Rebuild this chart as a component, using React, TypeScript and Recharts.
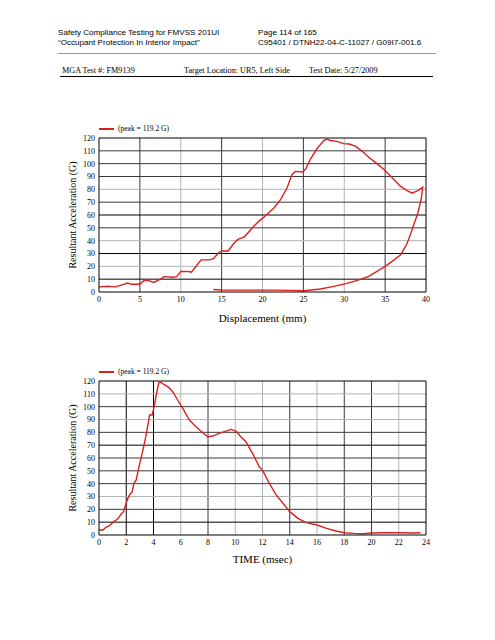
import { Line, LineChart, ReferenceLine, XAxis, YAxis } from "recharts";

// displacement (mm) vs resultant acceleration (G), loading then unloading
const dispMm = [
  0, 1, 2, 3, 3.5, 4, 5, 5.5, 6, 6.7, 7.5, 8, 9, 9.5, 10, 11, 11.3, 12, 12.5, 13.5, 14, 14.7, 15, 15.8,
  16.5, 17, 17.8, 18.9, 19.7, 20.3, 21.4, 22.2, 23, 23.6, 24, 24.9, 25.3, 25.9, 26.7, 27.5, 27.9, 28.3,
  29.1, 29.9, 30.6, 31.4, 32.2, 33, 33.8, 34.9, 35.9, 36.9, 37.7, 38.3, 39, 39.6,
  39.4, 39, 38.3, 37.7, 36.9, 36.1, 35, 34, 33, 31.6, 30.2, 28.7, 27.1, 25.1, 23.4, 21.4, 17.3, 15, 14,
];
const accDisp = [
  4, 4.5, 4, 6, 7, 6, 6, 9, 9, 7.5, 10, 12, 11.5, 12, 16, 16, 15.5, 21, 25, 25, 26, 31, 32, 32,
  38, 41, 43, 51, 56, 59, 65.5, 72, 81, 91.4, 94, 93.5, 96, 104, 112, 118, 119.2, 118,
  117.4, 115.6, 115.3, 113.5, 109.6, 105, 101, 95.3, 88.8, 82.3, 79, 77, 79, 81.6,
  72, 61.6, 48.6, 38, 29, 25, 20, 16, 12.2, 9, 6.5, 4.4, 2.3, 1, 1.3, 1.5, 1.5, 1.6, 2,
];

// time (msec) vs resultant acceleration (G)
const timeMs = [
  0, 0.3, 0.5, 0.73, 0.9, 1.07, 1.27, 1.41, 1.63, 1.8, 1.95, 2.12, 2.29, 2.44, 2.56, 2.73, 2.88, 3.02,
  3.22, 3.41, 3.59, 3.71, 3.9, 4.05, 4.2, 4.39, 4.49, 4.73, 5.12, 5.41, 5.78, 6.15, 6.63, 7.12, 7.61,
  7.98, 8.34, 8.83, 9.32, 9.68, 10.05, 10.41, 10.78, 11.27, 11.76, 12, 12.5, 13, 13.5, 14, 14.6, 15.2,
  16, 16.7, 17.4, 18, 18.7, 19.4, 20, 20.9, 22, 23.1, 23.6,
];
const accTime = [
  3.9, 3.9, 6, 7, 8.6, 10.4, 11.7, 13, 16.4, 18.2, 23.4, 28.6, 32, 33.8, 40.3, 42.9, 50.6, 57,
  66, 75.3, 85.7, 93.5, 93.5, 100, 109, 118.7, 119.2, 117.6, 115, 111.7, 105, 98.7, 89.6, 84.4, 79.7,
  76.6, 77.1, 79.2, 81, 82.3, 81, 76.6, 72.7, 63.6, 53.2, 50.6, 40.3, 31.2, 24.7, 18.2, 13, 9.6,
  7.8, 5.2, 3.1, 1.8, 1.3, 1.0, 1.6, 1.8, 1.8, 1.6, 1.8,
];

const accTicks = [0, 10, 20, 30, 40, 50, 60, 70, 80, 90, 100, 110, 120];
const dispTicks = [0, 5, 10, 15, 20, 25, 30, 35, 40];
const timeTicks = [0, 2, 4, 6, 8, 10, 12, 14, 16, 18, 20, 22, 24];
const peakLabel = "(peak = 119.2 G)";

const RED = "#dc1f1f";
const serif = "'Liberation Serif', 'Times New Roman', serif";
const sans = "'Liberation Sans', Arial, sans-serif";

type Shade = Record<number, string>;

function gridColor(v: number, shades: Shade) {
  return shades[v] ?? "#3a3a3a";
}

type PanelProps = {
  top: number;
  data: Array<{ x: number; y: number }>;
  xTicks: number[];
  xMax: number;
  xTitle: string;
  xAxisHeight: number;
  vShades: Shade;
  hShades: Shade;
};

function Panel({ top, data, xTicks, xMax, xTitle, xAxisHeight, vShades, hShades }: PanelProps) {
  const tickStyle = { fontFamily: serif, fontSize: 8, fill: "#000" };
  return (
    <div style={{ position: "absolute", left: 0, top }}>
      <div
        style={{
          position: "absolute",
          left: 99,
          top: 4,
          display: "flex",
          alignItems: "center",
          fontFamily: serif,
          fontSize: 7.5,
          whiteSpace: "nowrap",
        }}
      >
        <span style={{ width: 15, height: 2, background: RED, marginRight: 4 }} />
        {peakLabel}
      </div>
      <LineChart
        width={440}
        height={178 + xAxisHeight}
        data={data}
        margin={{ top: 18, right: 14, bottom: 6, left: 45 }}
      >
        {xTicks.slice(1, -1).map((v) => (
          <ReferenceLine key={`v${v}`} x={v} stroke={gridColor(v, vShades)} strokeWidth={1} />
        ))}
        {accTicks.slice(1, -1).map((v) => (
          <ReferenceLine key={`h${v}`} y={v} stroke={gridColor(v, hShades)} strokeWidth={1} />
        ))}
        <ReferenceLine y={120} stroke="#000" />
        <ReferenceLine x={xMax} stroke="#000" />
        <XAxis
          type="number"
          dataKey="x"
          domain={[0, xMax]}
          ticks={xTicks}
          interval={0}
          height={xAxisHeight}
          axisLine={{ stroke: "#000" }}
          tickLine={false}
          tickSize={2}
          tick={tickStyle}
          label={{
            value: xTitle,
            position: "insideBottom",
            offset: 0,
            style: { fontFamily: serif, fontSize: 11, fill: "#000" },
          }}
        />
        <YAxis
          type="number"
          domain={[0, 120]}
          ticks={accTicks}
          interval={0}
          width={54}
          axisLine={{ stroke: "#000" }}
          tickLine={false}
          tickSize={2}
          tick={tickStyle}
          label={{
            value: "Resultant Acceleration (G)",
            angle: -90,
            position: "center",
            style: { fontFamily: serif, fontSize: 10, fill: "#000" },
          }}
        />
        <Line
          type="linear"
          dataKey="y"
          stroke={RED}
          strokeWidth={1.4}
          dot={false}
          isAnimationActive={false}
        />
      </LineChart>
    </div>
  );
}

export default function App() {
  const dispData = dispMm.map((x, i) => ({ x, y: accDisp[i] }));
  const timeData = timeMs.map((x, i) => ({ x, y: accTime[i] }));
  const lt = "#b4b4b4";
  const bk = "#000";

  return (
    <div style={{ position: "absolute", left: 0, top: 0, width: 495, height: 640, background: "#fff" }}>
      <div style={{ position: "absolute", left: 58, top: 28, fontFamily: sans, fontSize: 8.1, lineHeight: "10px", whiteSpace: "nowrap" }}>
        Safety Compliance Testing for FMVSS 201UI
        <br />
        “Occupant Protection In Interior Impact”
      </div>
      <div style={{ position: "absolute", left: 258, top: 28, fontFamily: sans, fontSize: 8.1, lineHeight: "10px", whiteSpace: "nowrap" }}>
        Page 114 of 165
        <br />
        C95401 / DTNH22-04-C-11027 / G09I7-001.6
      </div>
      <div style={{ position: "absolute", left: 58, top: 53, width: 378, height: 1, background: "#999" }} />
      <div style={{ position: "absolute", left: 62, top: 66, fontFamily: serif, fontSize: 8.2, whiteSpace: "nowrap" }}>
        MGA Test #: FM9139
      </div>
      <div style={{ position: "absolute", left: 184, top: 66, fontFamily: serif, fontSize: 8.2, whiteSpace: "nowrap" }}>
        Target Location: UR5, Left Side
      </div>
      <div style={{ position: "absolute", left: 309, top: 66, fontFamily: serif, fontSize: 8.2, whiteSpace: "nowrap" }}>
        Test Date: 5/27/2009
      </div>
      <div style={{ position: "absolute", left: 60, top: 76, width: 373, height: 1, background: "#000" }} />

      <Panel
        top={120}
        data={dispData}
        xTicks={dispTicks}
        xMax={40}
        xTitle="Displacement (mm)"
        xAxisHeight={30}
        vShades={{ 10: lt, 20: lt, 30: lt }}
        hShades={{ 80: lt, 40: lt, 20: lt, 60: bk, 10: bk, 30: bk }}
      />
      <Panel
        top={363}
        data={timeData}
        xTicks={timeTicks}
        xMax={24}
        xTitle="TIME (msec)"
        xAxisHeight={28}
        vShades={{ 2: bk, 4: bk, 6: lt, 10: lt, 12: lt, 16: lt, 22: lt }}
        hShades={{ 110: lt, 90: lt, 30: lt, 70: bk, 10: bk }}
      />
    </div>
  );
}
